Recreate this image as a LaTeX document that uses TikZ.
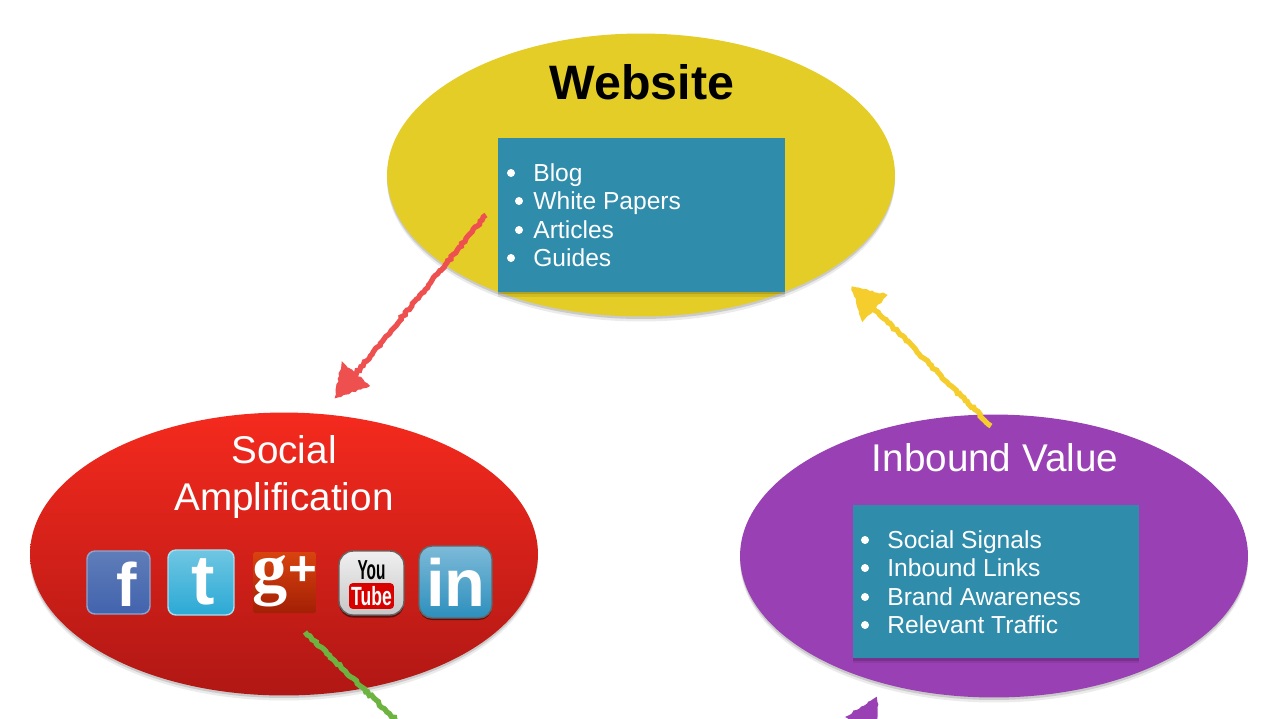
\documentclass[tikz,border=0pt]{standalone}
\usepackage{fontspec}
\setmainfont{Liberation Sans}
\newfontfamily\serifglyph{Liberation Serif}
\usetikzlibrary{shapes.geometric, positioning, shadows, decorations.pathmorphing}
\definecolor{sitegold}{HTML}{E3CD26}
\definecolor{tealbox}{HTML}{2F8CAB}
\definecolor{valuepurple}{HTML}{9A40B5}
\definecolor{ampred}{HTML}{F52A1E}
\definecolor{ampdark}{HTML}{B01714}
\definecolor{arrowred}{HTML}{EE5050}
\definecolor{arrowgreen}{HTML}{6DB33F}
\definecolor{arrowgold}{HTML}{F5CD2C}
\definecolor{facetop}{HTML}{5F7DB8}
\definecolor{facelow}{HTML}{4263AE}
\definecolor{birdtop}{HTML}{6FC6E2}
\definecolor{birdlow}{HTML}{2BA9D5}
\definecolor{plustop}{HTML}{D8430F}
\definecolor{pluslow}{HTML}{A32005}
\definecolor{intop}{HTML}{7DBAD8}
\definecolor{inlow}{HTML}{2C8FBD}
\begin{document}
\begin{tikzpicture}[
    x=0.02cm, y=-0.02cm,
    softshadow/.style={
        drop shadow={shadow xshift=0cm, shadow yshift=-0.1cm, opacity=0.08, fill=black},
        drop shadow={shadow xshift=0cm, shadow yshift=-0.05cm, opacity=0.14, fill=black}},
    blob/.style={ellipse, minimum width=10.16cm, minimum height=5.66cm, inner sep=0pt, softshadow},
    listbox/.style={rectangle, fill=tealbox, minimum width=5.74cm, minimum height=3.07cm, inner sep=0pt, softshadow},
    heading/.style={text=white, font=\fontsize{22}{25.5}\selectfont, align=center},
    item/.style={text=white, anchor=west, inner sep=0pt, yshift=-1.6pt, text height=1.7ex, text depth=0.5ex, font=\fontsize{14}{17}\selectfont},
    bulletdot/.style={circle, fill=white, minimum size=0.16cm, inner sep=0pt},
    icon/.style={rectangle, rounded corners=0.16cm, minimum width=1.26cm, minimum height=1.26cm, inner sep=0pt, line width=0.8pt},
    rough/.style={decorate, decoration={random steps, segment length=1.6pt, amplitude=0.6pt}},
    wire/.style={line width=3pt, rough},
    head/.style={regular polygon, regular polygon sides=3, minimum size=0.8cm, inner sep=0pt, line width=1pt, rough}
]
\path[use as bounding box, clip] (0,0) rectangle (1280,718);

% Website
\node[blob, fill=sitegold] (website) at (641,175) {};
\node[font=\fontsize{27.5}{30}\selectfont\bfseries, text=black] (websitetitle) at (642,82) {Website};
\node[listbox] (sitelist) at (641.5,215) {};
\node[item] (blog) at (533,173) {Blog};
\node[item] (papers) at (533,201) {White Papers};
\node[item] (articles) at (533,230) {Articles};
\node[item] (guides) at (533,258) {Guides};
\node[bulletdot] (blogdot) at (511,173) {};
\node[bulletdot] (papersdot) at (519,201) {};
\node[bulletdot] (articlesdot) at (519,230) {};
\node[bulletdot] (guidesdot) at (511,258) {};

% Social Amplification
\node[blob, top color=ampred, bottom color=ampdark] (social) at (284,554) {};
\node[heading] (socialtitle) at (284,477) {Social\\[1pt]Amplification};

% Icons
\node[icon, draw=facetop!70!white, top color=facetop, bottom color=facelow] (facebook) at (118.5,582.5) {};
\node[text=white, font=\fontsize{35}{35}\selectfont\bfseries, inner sep=0pt] (facebookf) at (127,584) {f};
\node[icon, draw=birdtop!60!white, top color=birdtop, bottom color=birdlow, minimum width=1.32cm, minimum height=1.3cm] (twitter) at (201,582.5) {};
\node[text=white, font=\fontsize{40}{40}\selectfont\bfseries, inner sep=0pt] (twittert) at (203,582) {t};
\node[rectangle, top color=plustop, bottom color=pluslow, minimum width=1.26cm, minimum height=1.22cm, inner sep=0pt, rounded corners=1pt] (google) at (284.5,582.5) {};
\node[text=white, font=\fontsize{40}{40}\serifglyph\bfseries, inner sep=0pt] (googleg) at (270.5,581) {g};
\node[text=white, font=\fontsize{28}{28}\bfseries, inner sep=0pt] (googleplus) at (303,571) {+};
\node[icon, top color=black!6, bottom color=black!22, minimum width=1.3cm, minimum height=1.28cm, rounded corners=0.28cm, draw=black!60, drop shadow={shadow xshift=0cm, shadow yshift=-0.05cm, opacity=0.5, fill=black}] (youtube) at (371.5,583) {};
\node[text=black, font=\fontsize{12.5}{13}\selectfont\bfseries, inner sep=0pt, xscale=0.7, yscale=1.25] (youword) at (371.5,570.5) {You};
\node[text=white, fill=red!85!black, rounded corners=2pt, font=\fontsize{12.5}{13}\selectfont\bfseries, inner sep=1.5pt, xscale=0.8, yscale=1.2] (tubeword) at (371.5,596) {Tube};
\node[icon, top color=intop, bottom color=inlow, minimum width=1.46cm, minimum height=1.44cm, rounded corners=0.26cm, draw=black!60, drop shadow={shadow xshift=0cm, shadow yshift=-0.04cm, opacity=0.5, fill=black}] (linkedin) at (455.5,582) {};
\node[text=white, font=\fontsize{38}{38}\selectfont\bfseries, inner sep=0pt] (linkedinword) at (456,582) {in};

% Inbound Value
\node[blob, fill=valuepurple] (inbound) at (994,556) {};
\node[heading] (inboundtitle) at (995,458) {Inbound Value};
\node[listbox] (valuelist) at (996,581.5) {};
\node[item] (signals) at (887,540) {Social Signals};
\node[item] (links) at (887,568) {Inbound Links};
\node[item] (awareness) at (887,597) {Brand Awareness};
\node[item] (traffic) at (887,625) {Relevant Traffic};
\node[bulletdot] (signalsdot) at (865,540) {};
\node[bulletdot] (linksdot) at (865,568) {};
\node[bulletdot] (awarenessdot) at (865,597) {};
\node[bulletdot] (trafficdot) at (865,625) {};

% Arrow heads and free ends
\node[head, fill=arrowred, draw=arrowred, rotate=139] (redhead) at (349,382) {};
\node[head, fill=arrowgold, draw=arrowgold, rotate=47] (goldhead) at (867,301) {};
\node[head, fill=valuepurple, draw=valuepurple, rotate=-27] (purplehead) at (867,716) {};
\coordinate (redstart) at (486,215);
\coordinate (goldstart) at (991,426);
\coordinate (greenstart) at (305,632);
\coordinate (greenend) at (400,724);

% Arrows
\draw[wire, arrowred] (redstart) -- (redhead.center);
\draw[wire, arrowgold] (goldstart) -- (goldhead.center);
\draw[wire, arrowgreen] (greenstart) -- (greenend);

\end{tikzpicture}
\end{document}
